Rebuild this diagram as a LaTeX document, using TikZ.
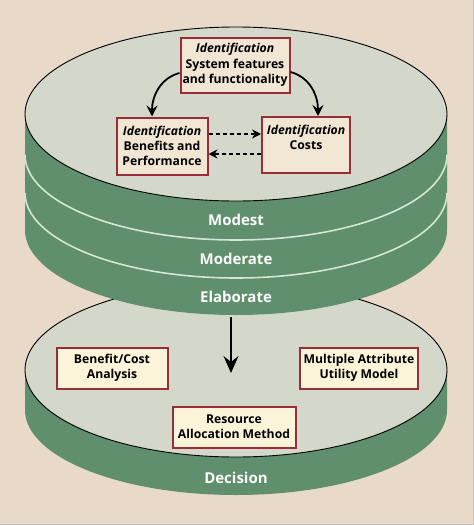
\documentclass[tikz,border=0pt]{standalone}
\usepackage{fontspec}
\setmainfont{Open Sans}
\usepackage{tikz}
\usetikzlibrary{positioning,arrows.meta}

\definecolor{bgbeige}{HTML}{E9D9C8}
\definecolor{diskgreen}{HTML}{5F8F6C}
\definecolor{facegray}{HTML}{D3D8CB}
\definecolor{boxred}{HTML}{9A2B38}
\definecolor{boxfill}{HTML}{F1E5D3}
\definecolor{boxyellow}{HTML}{FCF4D9}
\definecolor{bandline}{HTML}{D6E6D6}

\begin{document}
\begin{tikzpicture}[x=1pt, y=-1pt,
  idbox/.style={draw=boxred, line width=2, fill=boxfill, align=center,
    font=\fontsize{12.2}{15.3}\selectfont\bfseries, inner sep=1pt},
  methodbox/.style={idbox, fill=boxyellow},
  band/.style={text=white!92!bandline, font=\fontsize{15}{17}\selectfont\bfseries},
  flow/.style={->, >={Stealth[length=11pt, width=11pt, inset=4pt]}, line width=1.8},
  dashflow/.style={flow, dashed, dash pattern=on 4pt off 3pt, >={Stealth[length=9pt, width=9pt, inset=3pt]}}]
  % background
  \fill[bgbeige] (0,0) rectangle (474,525);
  \useasboundingbox (0,0) rectangle (474,525);
  \draw[black!25, line width=1] (0,524) -- (473,524) -- (473,0);

  % lower disk
  \fill[diskgreen] (25,370) -- (25,410) arc[start angle=180, end angle=0, x radius=211, y radius=85]
    -- (447,370) arc[start angle=0, end angle=180, x radius=211, y radius=85] -- cycle;
  \draw[fill=facegray, line width=0.9] (236,370) ellipse[x radius=211, y radius=87];

  % upper cylinder
  \fill[diskgreen] (25,114) -- (25,230) arc[start angle=180, end angle=0, x radius=211, y radius=85]
    -- (447,114) -- cycle;
  \foreach \cy in {155,193}
    \draw[bandline, line width=1.6] (25,\cy) arc[start angle=180, end angle=0, x radius=211, y radius=85];
  \draw[fill=facegray, line width=0.9] (236,114) ellipse[x radius=211, y radius=87];

  % nodes
  \node[idbox, minimum width=109, minimum height=55] (sys) at (235,65)
    {\textit{Identification}\\System features\\and functionality};
  \node[idbox, minimum width=91, minimum height=57] (ben) at (162,146)
    {\textit{Identification}\\Benefits and\\Performance};
  \node[idbox, minimum width=88, minimum height=56] (cost) at (306,145)
    {\textit{Identification}\\Costs\\\mbox{}};
  \node[methodbox, minimum width=111, minimum height=41] (bca) at (112,368)
    {Benefit/Cost\\Analysis};
  \node[methodbox, minimum width=118, minimum height=41] (mau) at (359,368)
    {Multiple Attribute\\Utility Model};
  \node[methodbox, minimum width=123, minimum height=41] (ram) at (234,427)
    {Resource\\Allocation Method};

  \node[band] (modest) at (236,220) {Modest};
  \node[band] (moderate) at (236,259) {Moderate};
  \node[band] (elab) at (236,297) {Elaborate};
  \node[band] (decision) at (236,478) {Decision};

  \coordinate (drop) at (231,317);
  \coordinate (land) at (231,373);

  % edges
  \draw[flow] ([yshift=-8]sys.west) to[out=195, in=90] ([xshift=-10]ben.north);
  \draw[flow] ([yshift=-7]sys.east) to[out=-15, in=90] ([xshift=12]cost.north);
  \draw[dashflow] ([yshift=12]ben.east) -- ([yshift=11]cost.west);
  \draw[dashflow] ([yshift=-9]cost.west) -- ([yshift=-8]ben.east);
  \draw[flow, >={Stealth[length=17pt, width=15pt, inset=6pt]}] (drop) -- (land);
\end{tikzpicture}
\end{document}
